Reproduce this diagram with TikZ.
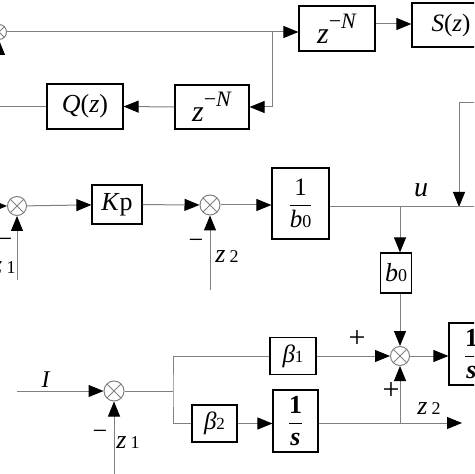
\documentclass[tikz,border=0pt]{standalone}
\usepackage{fontspec}
\setmainfont{Liberation Serif}
\usetikzlibrary{arrows.meta}
\newcommand{\mysz}[1]{\fontsize{#1}{#1}\selectfont}
\begin{document}
\begin{tikzpicture}[x=0.5pt,y=-0.5pt,
  ln/.style={draw=black!50, line width=0.5pt},
  arr/.style={ln, -{Triangle[length=7.5pt,width=6pt,color=black]}},
  box/.style={draw=black, line width=0.6pt, inner sep=0pt},
  sumc/.style={circle, draw=black!50, line width=0.5pt, inner sep=0pt, minimum size=#1,
    path picture={\draw[black!50, line width=0.5pt] (path picture bounding box.north west) -- (path picture bounding box.south east)
      (path picture bounding box.north east) -- (path picture bounding box.south west);}},
  lbl/.style={inner sep=0pt}
]
\useasboundingbox (0,0) rectangle (474,474);
\clip (0,0) rectangle (474,474);

% top loop
\node[sumc=7.5pt] (c0) at (-1,32) {};
\node[box, minimum width=38pt, minimum height=22.5pt] (zN1) at (337,28.5) {\mysz{15}\textit{z}\raisebox{1.1ex}{\mysz{11}−\textit{N}}};
\node[box, minimum width=39pt, minimum height=22pt] (Sz) at (451,25) {\mysz{12.5}\textit{S}(\textit{z})};
\node[box, minimum width=37pt, minimum height=22pt] (zN2) at (212,107) {\mysz{15}\textit{z}\raisebox{1.1ex}{\mysz{11}−\textit{N}}};
\node[box, minimum width=38pt, minimum height=22.5pt] (Qz) at (85,106.5) {\mysz{13}\textit{Q}(\textit{z})};
\coordinate (bt) at (272,32);
\draw[arr] (c0) -- (zN1.west |- c0);
\draw[arr] (bt) |- (zN2.east);
\draw[arr] (zN1.east |- 0,24) -- (Sz.west |- 0,24);
\draw[arr] (zN2.west) -- (Qz.east);
\draw[arr] (Qz.west) -| (c0.south);
\coordinate (rt) at (480,103);
\coordinate (uj) at (459,207);
\draw[arr] (rt) -| (uj);

% middle row
\node[sumc=9.5pt] (c1) at (17,206) {};
\node[box, minimum width=25pt, minimum height=19.5pt] (Kp) at (117,204.5) {\mysz{13}\textit{K}p};
\node[sumc=10pt] (c2) at (210,205) {};
\node[box, minimum width=28.5pt, minimum height=35.5pt] (ib0) at (300.5,203.5) {\mysz{12.5}$\displaystyle\frac{\hbox{1}}{\hbox{\itshape b\upshape\mysz{9}0}}$};
\node[box, minimum width=15.5pt, minimum height=20pt] (b0) at (396,273) {\mysz{13}\textit{b}{\mysz{9}0}};
\coordinate (lin) at (-10,206);
\coordinate (z1a) at (17,280);
\coordinate (z2a) at (210,290);
\coordinate (ur) at (480,207);
\coordinate (ub) at (400,207);
\draw[arr] (lin) -- (c1.west);
\draw[arr] (z1a) -- (c1.south);
\draw[arr] (c1) -- (Kp);
\draw[arr] (Kp) -- (c2);
\draw[arr] (z2a) -- (c2.south);
\draw[arr] (c2.east) -- (ib0.west |- c2.east);
\draw[ln] (ib0.east |- ur) -- (ur);
\draw[arr] (ub) -- (ub |- b0.north);
\node[lbl] (lu) at (421,190) {\mysz{14}\textit{u}};
\node[lbl] (m1) at (5,243) {\mysz{13}−};
\node[lbl, anchor=east] (lz1) at (16,268) {\mysz{13}\textit{z}\,{\mysz{9}1}};
\node[lbl] (m2) at (196,244) {\mysz{13}−};
\node[lbl] (lz2) at (227,257) {\mysz{13}\textit{z}\,{\mysz{9}2}};

% bottom row
\node[sumc=9.5pt] (s3) at (400,356) {};
\node[sumc=10pt] (c3) at (114,391) {};
\node[box, minimum width=23pt, minimum height=18.5pt] (B1) at (293,356) {\mysz{12.5}\textit{β}{\mysz{8.5}1}};
\node[box, minimum width=22.5pt, minimum height=18.5pt] (B2) at (214.5,423.5) {\mysz{12.5}\textit{β}{\mysz{8.5}2}};
\node[box, minimum width=22.5pt, minimum height=31pt] (is) at (295.5,421) {\mysz{13}$\displaystyle\frac{\hbox{\bfseries 1}}{\hbox{\bfseries\itshape s}}$};
\node[box, minimum width=22.5pt, minimum height=31pt] (is2) at (471.5,354) {\mysz{13}$\displaystyle\frac{\hbox{\bfseries 1}}{\hbox{\bfseries\itshape s}}$};
\coordinate (Iin) at (17,391);
\coordinate (z1b) at (114,480);
\coordinate (bb) at (173,391);
\coordinate (bz) at (400,423);
\coordinate (z2o) at (462,423);
\draw[arr] (b0.south -| s3) -- (s3.north);
\draw[arr] (Iin) -- (c3.west);
\draw[arr] (z1b) -- (c3.south);
\draw[ln] (c3.east) -- (bb);
\draw[ln] (B1.west) -| (bb) |- (B2.west);
\draw[arr] (B2.east) -- (is.west |- B2.east);
\draw[arr] (B1.east) -- (s3.west);
\draw[arr] (s3.east) -- (is2.west |- s3.east);
\draw[arr] (is.east |- z2o) -- (z2o);
\draw[arr] (bz) -- (s3.south);
\node[lbl] (lI) at (46,380) {\mysz{12}\textit{I}};
\node[lbl] (m3) at (100,435) {\mysz{13}−};
\node[lbl] (lz3) at (128,443) {\mysz{13}\textit{z}\,{\mysz{9}1}};
\node[lbl] (p1) at (357,339) {\mysz{15}+};
\node[lbl] (p2) at (391,391) {\mysz{15}+};
\node[lbl] (lz4) at (429,409) {\mysz{13}\textit{z}\,{\mysz{9}2}};
\end{tikzpicture}
\end{document}
